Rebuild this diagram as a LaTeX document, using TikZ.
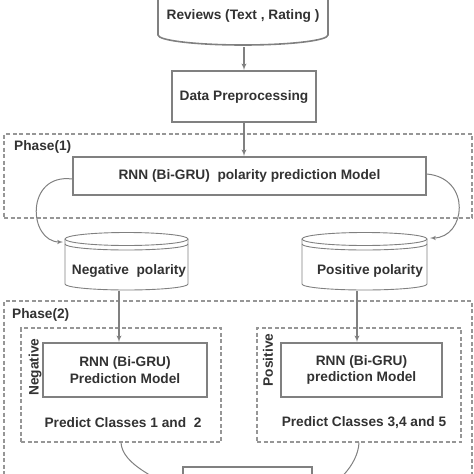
\documentclass[tikz,border=0pt]{standalone}
\usepackage{fontspec}
\setmainfont{Liberation Sans}
\usetikzlibrary{arrows}
\definecolor{linegray}{RGB}{128,128,128}
\definecolor{textgray}{RGB}{50,50,50}
\definecolor{dashgray}{RGB}{150,150,150}

\begin{document}
\begin{tikzpicture}[x=1pt,y=-1pt]

\tikzset{box/.style = {shape=rectangle,draw=linegray,line width=1.6pt,inner sep=0pt,text=textgray,font=\fontsize{13.7}{16.5}\selectfont\bfseries,align=center}}
\tikzset{lbl/.style = {text=textgray,font=\fontsize{13.7}{16.5}\selectfont\bfseries,inner sep=0pt}}
\tikzset{frame/.style = {shape=rectangle,draw=dashgray,line width=1.1pt,dash pattern=on 4pt off 2.5pt,inner sep=0pt}}
\tikzset{cyl/.style = {draw=linegray,line width=0.9pt}}
\tikzset{edge/.style = {->,> = latex',draw=linegray,line width=1.3pt}}
\tikzset{curvedge/.style = {->,> = latex',draw=linegray,line width=1pt}}

\useasboundingbox (0,0) rectangle (474,474);
\clip (0,0) rectangle (474,474);

% frames
\node[frame,minimum width=468,minimum height=84] (phaseA) at (238,176) {};
\node[frame,minimum width=468,minimum height=220] (phaseB) at (238,411) {};
\node[frame,minimum width=200,minimum height=114] (negframe) at (121,385) {};
\node[frame,minimum width=204,minimum height=114] (posframe) at (359,385) {};
\node[lbl,anchor=west] (phaseAlbl) at (14,147) {Phase(1)};
\node[lbl,anchor=west] (phaseBlbl) at (12,315) {Phase(2)};

% data stores
\draw[linegray,line width=1.6pt] (158,-10) -- (158,35) arc[start angle=180,end angle=0,x radius=85,y radius=10] -- (328,-10);
\draw[cyl] (126.5,239) ellipse [x radius=61.5,y radius=6.5];
\draw[cyl] (65,239) -- (65,284) arc[start angle=180,end angle=0,x radius=61.5,y radius=6] -- (188,239);
\draw[cyl] (65,244) arc[start angle=180,end angle=0,x radius=61.5,y radius=6];
\draw[cyl] (364.5,239) ellipse [x radius=62.5,y radius=6.5];
\draw[cyl] (302,239) -- (302,284) arc[start angle=180,end angle=0,x radius=62.5,y radius=6] -- (427,239);
\draw[cyl] (302,244) arc[start angle=180,end angle=0,x radius=62.5,y radius=6];

% vertices
\node[lbl] (reviews) at (243,16) {Reviews (Text , Rating )};
\node[box,minimum width=144,minimum height=51] (prep) at (244,96.5) {Data Preprocessing};
\node[box,minimum width=353,minimum height=38] (polmodel) at (249.5,176) {RNN (Bi-GRU)~ polarity prediction Model};
\node[lbl] (negpol) at (129,271) {Negative~ polarity};
\node[lbl] (pospol) at (370,271) {Positive polarity};
\node[box,minimum width=164,minimum height=54] (negmodel) at (125,370) {RNN (Bi-GRU)\\Prediction Model};
\node[box,minimum width=161,minimum height=54] (posmodel) at (361.5,370) {RNN (Bi-GRU)\\prediction Model};
\node[lbl,rotate=90] (negtag) at (35,367) {Negative};
\node[lbl,rotate=90] (postag) at (268,360) {Positive};
\node[lbl] (negcls) at (123,423) {Predict Classes 1 and~ 2};
\node[lbl] (poscls) at (364,423) {Predict Classes 3,4 and 5};
\node[box,minimum width=129,minimum height=50] (result) at (247.5,492) {};

\coordinate (revbot) at (244,47);
\coordinate (negin) at (63,242);
\coordinate (posin) at (430,238);
\coordinate (negbot) at (119,291);
\coordinate (posbot) at (357,291);

\draw[edge] (revbot) to (prep.north);
\draw[edge] (prep.south) to (prep.south |- polmodel.north);
\draw[curvedge] ([yshift=-3pt]polmodel.west) .. controls (25,173) and (28,242) .. (negin);
\draw[curvedge] ([yshift=2pt]polmodel.east) .. controls (472,178) and (466,238) .. (posin);
\draw[edge] (negbot) to (negbot |- negmodel.north);
\draw[edge] (posbot) to (posbot |- posmodel.north);
\draw[curvedge] (negframe.south) .. controls (122,465) and (160,480) .. (result.west);
\draw[curvedge] (posframe.south) .. controls (358,465) and (335,488) .. (result.east);
\end{tikzpicture}
\end{document}
